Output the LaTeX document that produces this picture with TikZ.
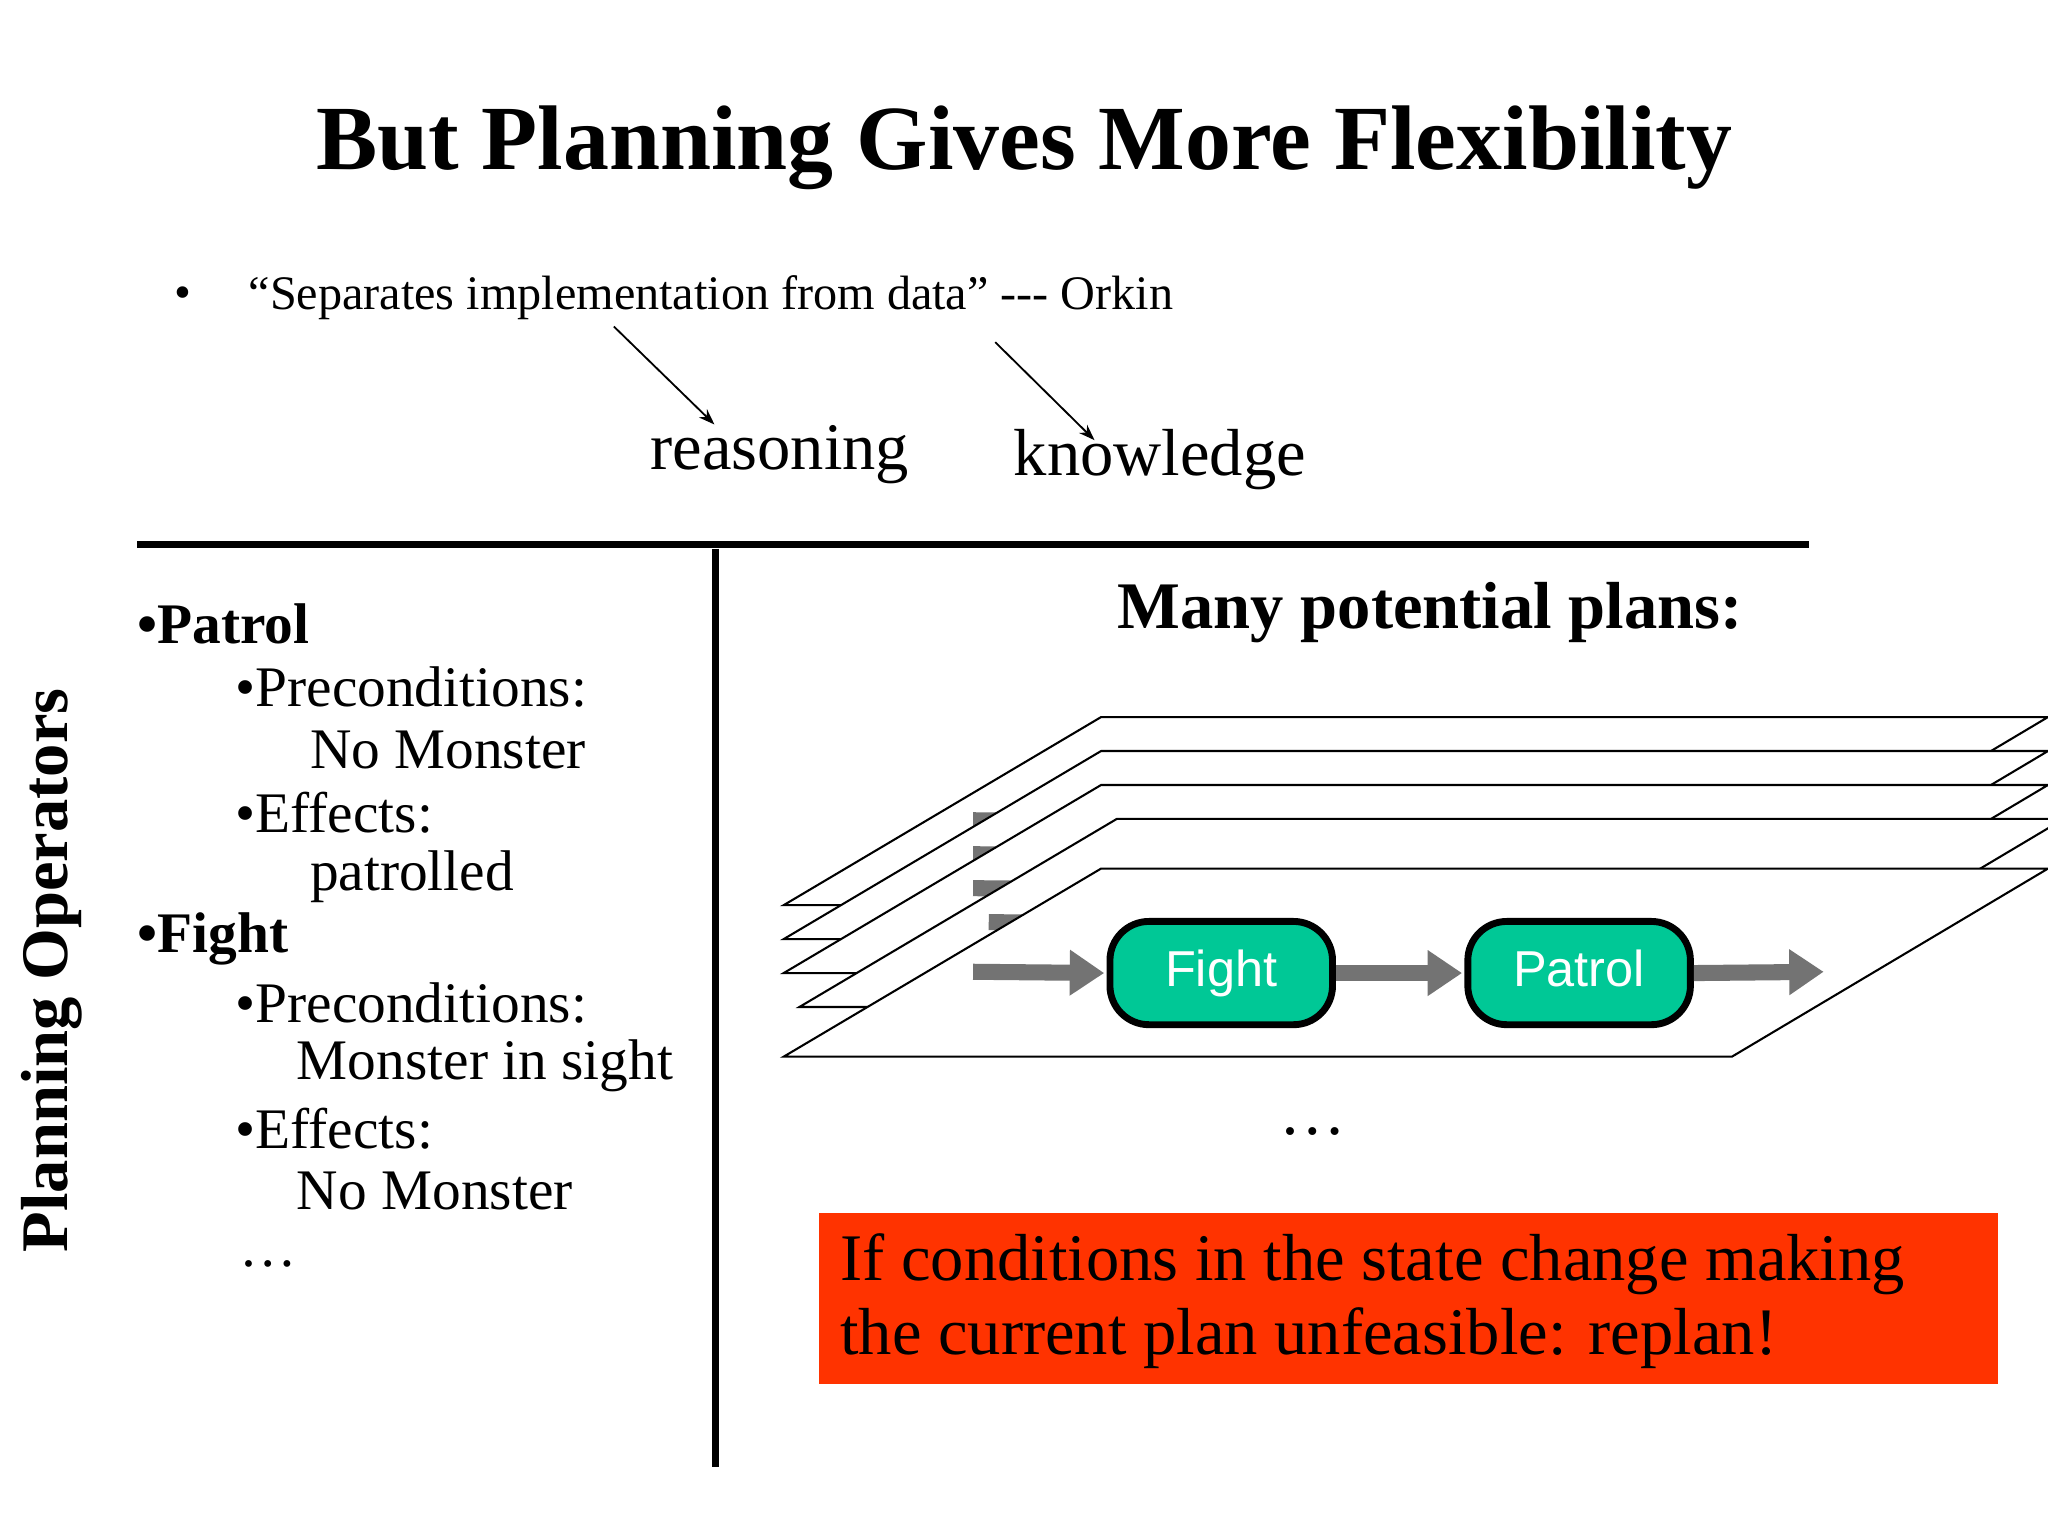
\documentclass[tikz,border=0pt]{standalone}
\usepackage{fontspec}
\setmainfont{Liberation Serif}
\setsansfont{Liberation Sans}
\usetikzlibrary{arrows.meta}
\definecolor{opgreen}{HTML}{00C896}
\definecolor{redbox}{HTML}{FF3300}
\tikzset{
  flowarrow/.style={draw=gray!90!black, line width=7pt, -{Triangle[length=15pt,width=19pt]}, shorten >=1pt},
  opnode/.style={draw=black, line width=3pt, fill=opgreen, rounded corners=17pt, minimum width=97pt, minimum height=45pt, font=\sffamily\fontsize{22}{24}\selectfont, text=white, inner sep=0pt, text height=16pt, text depth=4pt},
  plane/.style={draw=black, line width=0.9pt, fill=white},
  listtext/.style={anchor=west, font=\fontsize{25}{28}\selectfont, inner sep=0pt},
  listbold/.style={listtext, font=\bfseries\fontsize{25}{28}\selectfont},
  smallarrow/.style={draw=black, line width=0.8pt, -{Stealth[length=7pt,width=5pt]}}
}
\newcommand\plancontent[5]{%
  \begin{scope}[shift={(#1,#2)}]
    \draw[plane] (843,665) -- (1568,665) -- (1326,809) -- (600,809) -- cycle;
    \coordinate (s#3) at (745,744);
    \node[opnode] (f#3) at (935,745) {#4};
    \node[opnode] (p#3) at (1209,745) {#5};
    \coordinate (e#3) at (1398,744);
    \draw[flowarrow] (s#3) -- (f#3.west);
    \draw[flowarrow] (f#3.east) -- (p#3.west);
    \draw[flowarrow] (p#3.east) -- (e#3);
  \end{scope}}
\begin{document}
\begin{tikzpicture}[x=0.02cm,y=-0.02cm]
\useasboundingbox[fill=white] (0,0) rectangle (1568,1176);
\node[font=\bfseries\fontsize{40}{44}\selectfont] (title) at (784,113) {But Planning Gives More Flexibility};
\node[font=\fontsize{21}{24}\selectfont] (bul) at (140,228) {•};
\node[anchor=west, font=\fontsize{21}{24}\selectfont, inner sep=0pt] (quote) at (190,228) {“Separates implementation from data” {-}{-}{-} Orkin};
\node[font=\fontsize{29}{32}\selectfont] (reas) at (597,348) {reasoning};
\node[font=\fontsize{29}{32}\selectfont] (know) at (888,352) {knowledge};
\coordinate (a1s) at (470,250); \coordinate (a1e) at (547,325);
\coordinate (a2s) at (762,262); \coordinate (a2e) at (838,337);
\draw[smallarrow] (a1s) -- (a1e);
\draw[smallarrow] (a2s) -- (a2e);
\coordinate (hl) at (105,417); \coordinate (hr) at (1385,417);
\coordinate (vt) at (548,420); \coordinate (vb) at (548,1123);
\draw[line width=3pt] (hl) -- (hr);
\draw[line width=3pt] (vt) -- (vb);
\node[rotate=90, font=\bfseries\fontsize{29}{32}\selectfont] (po) at (40,743) {Planning Operators};
\node[listbold] (l1) at (105,478) {•Patrol};
\node[listtext] (l2) at (180,526) {•Preconditions:};
\node[listtext] (l3) at (237,574) {No Monster};
\node[listtext] (l4) at (180,622) {•Effects:};
\node[listtext] (l5) at (237,671) {patrolled};
\node[listbold] (l6) at (105,719) {•Fight};
\node[listtext] (l7) at (180,768) {•Preconditions:};
\node[listtext] (l8) at (227,816) {Monster in sight};
\node[listtext] (l9) at (180,864) {•Effects:};
\node[listtext] (l10) at (227,912) {No Monster};
\node[listtext] (l11) at (183,968) {…};
\node[font=\bfseries\fontsize{29}{32}\selectfont] (many) at (1095,469) {Many potential plans:};
\plancontent{0}{-116}{a}{}{}
\plancontent{0}{-90}{b}{}{}
\plancontent{0}{-64}{c}{}{}
\plancontent{12}{-38}{d}{}{}
\plancontent{0}{0}{e}{Fight}{Patrol}
\node[font=\fontsize{29}{32}\selectfont] (dots) at (1005,866) {…};
\node[fill=redbox, anchor=north west, minimum width=902*0.02cm, minimum height=131*0.02cm, inner sep=0pt] (rb) at (627,928) {};
\node[anchor=north west, align=left, font=\fontsize{29}{32.5}\selectfont, inner sep=0pt] (rt) at (643,944) {If conditions in the state change making\\the current plan unfeasible: replan!};
\end{tikzpicture}
\end{document}
